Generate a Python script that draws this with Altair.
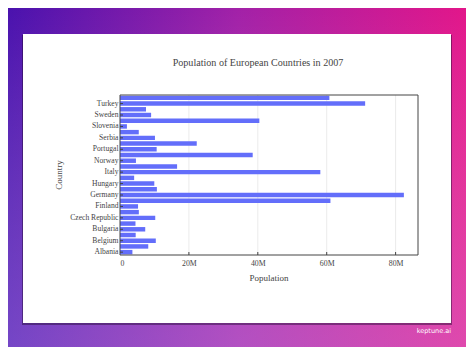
import altair as alt
import pandas as pd

countries = ["Albania", "Austria", "Belgium", "Bosnia and Herzegovina", "Bulgaria",
             "Croatia", "Czech Republic", "Denmark", "Finland", "France", "Germany",
             "Greece", "Hungary", "Ireland", "Italy", "Netherlands", "Norway", "Poland",
             "Portugal", "Romania", "Serbia", "Slovak Republic", "Slovenia", "Spain",
             "Sweden", "Switzerland", "Turkey", "United Kingdom"]
population = [3600523, 8199783, 10392226, 4552198, 7322858, 4493312, 10228744,
              5468120, 5238460, 61083916, 82400996, 10706290, 9956108, 4109086,
              58147733, 16570613, 4627926, 38518241, 10642836, 22276056, 10150265,
              5447502, 2009245, 40448191, 9031088, 7554661, 71158647, 60776238]
x_ticks = [0, 20000000, 40000000, 60000000, 80000000]
labeled = countries[::2]

title_text = "Population of European Countries in 2007"
x_title = "Population"
y_title = "Country"
watermark = "keptune.ai"

W, H = 298, 160
FONT = "Liberation Serif"
TXT = "#444444"

df = pd.DataFrame({"Country": countries, "Population": population})
one = alt.Data(values=[{"a": 1}])

xscale = alt.Scale(domain=[0, 86500000], nice=False, zero=True)
yscale = alt.Scale(domain=countries[::-1], paddingInner=0.22, paddingOuter=0.11)

bg = alt.Chart(one).mark_rect(
    fill=alt.Gradient(gradient="linear",
                      stops=[alt.GradientStop(color="#4a12ae", offset=0),
                             alt.GradientStop(color="#a221a8", offset=0.5),
                             alt.GradientStop(color="#e2168a", offset=1)],
                      x1=0, x2=1, y1=0, y2=0)
).encode(x=alt.value(-112), x2=alt.value(346), y=alt.value(-87), y2=alt.value(252))

bg2 = alt.Chart(one).mark_rect(
    fill=alt.Gradient(gradient="linear",
                      stops=[alt.GradientStop(color="rgba(255,255,255,0)", offset=0),
                             alt.GradientStop(color="rgba(215,190,255,0.3)", offset=1)],
                      x1=0, x2=0, y1=0, y2=1)
).encode(x=alt.value(-112), x2=alt.value(346), y=alt.value(-87), y2=alt.value(252))

shadow = alt.Chart(one).mark_rect(fill="#200830", opacity=0.45).encode(
    x=alt.value(-98), x2=alt.value(332), y=alt.value(-60), y2=alt.value(230))

card = alt.Chart(one).mark_rect(fill="white").encode(
    x=alt.value(-97), x2=alt.value(331), y=alt.value(-61), y2=alt.value(228))

grid = alt.Chart(pd.DataFrame({"t": x_ticks[1:]})).mark_rule(
    color="#ebebeb", strokeWidth=1).encode(
    x=alt.X("t:Q", scale=xscale), y=alt.value(0), y2=alt.value(H))

bars = alt.Chart(df).mark_bar(color="#636efa").encode(
    x=alt.X("Population:Q", scale=xscale,
            axis=alt.Axis(values=x_ticks, grid=False, domain=False,
                          labelExpr="datum.value == 0 ? '0' : (datum.value / 1000000) + 'M'",
                          ticks=False, labelPadding=4, title=None, zindex=1,
                          labelFont=FONT, labelFontSize=7.8, labelColor=TXT)),
    y=alt.Y("Country:N", scale=yscale,
            axis=alt.Axis(values=labeled, grid=False, domain=False, ticks=False,
                          labelPadding=2, title=None, zindex=1,
                          labelFont=FONT, labelFontSize=7.6, labelColor=TXT)),
)

frame = alt.Chart(one).mark_rect(fill=None, stroke="#444444", strokeWidth=1).encode(
    x=alt.value(0), x2=alt.value(W), y=alt.value(0), y2=alt.value(H))

yticks = alt.Chart(pd.DataFrame({"Country": labeled})).mark_rule(
    color="#444444").encode(
    y=alt.Y("Country:N", scale=yscale), x=alt.value(0), x2=alt.value(3))

xticks = alt.Chart(pd.DataFrame({"t": x_ticks[1:]})).mark_rule(
    color="#444444").encode(
    x=alt.X("t:Q", scale=xscale), y=alt.value(H - 3), y2=alt.value(H))

title = alt.Chart(one).mark_text(text=title_text, font=FONT, fontSize=10.1,
                                 color=TXT, baseline="middle", align="center").encode(
    x=alt.value(138), y=alt.value(-32))

xt = alt.Chart(one).mark_text(text=x_title, font=FONT, fontSize=9,
                              color=TXT, baseline="middle", align="center").encode(
    x=alt.value(149), y=alt.value(183))

yt = alt.Chart(one).mark_text(text=y_title, font=FONT, fontSize=9, angle=270,
                              color=TXT, baseline="middle", align="center").encode(
    x=alt.value(-61), y=alt.value(80))

wm = alt.Chart(one).mark_text(text=watermark, font="DejaVu Sans", fontSize=6.5,
                              color="white", baseline="middle", align="right").encode(
    x=alt.value(331), y=alt.value(236))

chart = alt.layer(bg, bg2, shadow, card, grid, bars, frame, yticks, xticks,
                  title, xt, yt, wm).properties(
    width=W, height=H,
    autosize=alt.AutoSizeParams(type="none"),
    padding={"left": 112, "top": 87, "right": 48, "bottom": 92},
).configure_view(stroke=None).configure(background="white")

chart.save("out.html", embed_options={"renderer": "svg", "actions": False})
